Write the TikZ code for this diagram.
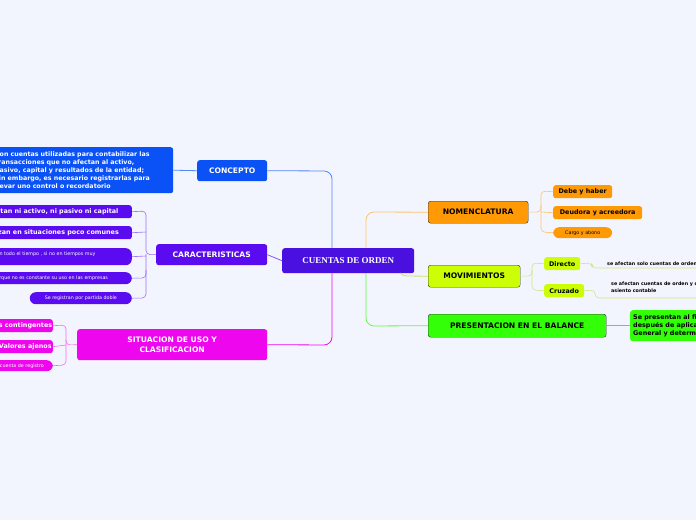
\documentclass[tikz,border=0pt]{standalone}
\usepackage{fontspec}
\setmainfont{DejaVu Sans}
\newfontfamily\serifb{Liberation Serif}
\begin{document}
\begin{tikzpicture}[x=1pt,y=-1pt,
  box/.style={draw=none,rounded corners=2.5pt,text=white,font=\bfseries\fontsize{7.6}{8.5}\selectfont,anchor=north west,inner sep=0pt,align=center},
  pill/.style={box,rounded corners=6pt,font=\fontsize{4.8}{5.5}\selectfont},
  sm/.style={font=\bfseries\fontsize{6.4}{7.5}\selectfont},
  conn/.style={line width=0.8pt,rounded corners=8pt}]
\definecolor{bg}{HTML}{F3F5FE}
\definecolor{cblue}{HTML}{0A52F5}
\definecolor{cpur}{HTML}{5A0BF0}
\definecolor{cmag}{HTML}{EE06EE}
\definecolor{corg}{HTML}{FF9A05}
\definecolor{cyel}{HTML}{CCFF05}
\definecolor{cgrn}{HTML}{33FF08}
\definecolor{ccen}{HTML}{4A10E0}
\fill[bg] (0,0) rectangle (696,520);
\useasboundingbox (0,0) rectangle (696,520);
% center
\node[box,fill=ccen,minimum width=132pt,minimum height=25pt,font=\serifb\bfseries\fontsize{9}{10}\selectfont] (c) at (282,248) {CUENTAS DE ORDEN};
% left
\node[box,fill=cblue,minimum width=70pt,minimum height=21pt] (con) at (197,160) {CONCEPTO};
\node[box,fill=cblue,minimum width=183pt,minimum height=46pt,align=left,text width=183pt,font=\bfseries\fontsize{6.3}{8}\selectfont] (cont) at (-10,147) {\hspace*{5pt}Son cuentas utilizadas para contabilizar las\\\hspace*{5pt}transacciones que no afectan al activo,\\\hspace*{5pt}pasivo, capital y resultados de la entidad;\\\hspace*{5pt}sin embargo, es necesario registrarlas para\\\hspace*{5pt}llevar uno control o recordatorio};
\node[box,fill=cpur,minimum width=111pt,minimum height=21pt] (car) at (156,244) {CARACTERISTICAS};
\node[box,sm,fill=cpur,minimum width=152pt,minimum height=13pt,anchor=north east] (k1) at (132,205) {\hspace*{-20pt}No afectan ni activo, ni pasivo ni capital};
\node[box,sm,fill=cpur,minimum width=152pt,minimum height=13pt,anchor=north east] (k2) at (132,226) {\hspace*{-20pt}Se utilizan en situaciones poco comunes};
\node[pill,fill=cpur,minimum width=152pt,minimum height=17pt,anchor=north east,align=left] (k3) at (132,248) {\hspace*{-40pt}No se usan todo el tiempo , si no en tiempos muy\\ };
\node[pill,fill=cpur,minimum width=152pt,minimum height=12pt,anchor=north east] (k4) at (132,272) {\hspace*{-10pt}Porque no es constante su uso en las empresas};
\node[pill,fill=cpur,minimum width=102pt,minimum height=12pt,anchor=north east] (k5) at (132,292) {Se registran por partida doble};
\node[box,fill=cmag,minimum width=190pt,minimum height=31pt,font=\bfseries\fontsize{7.6}{10}\selectfont] (sit) at (77,329) {SITUACION DE USO Y\\CLASIFICACION};
\node[box,sm,fill=cmag,minimum width=100pt,minimum height=13pt,anchor=north east] (s1) at (53,319) {\hspace*{20pt}Sucesos contingentes};
\node[box,sm,fill=cmag,minimum width=100pt,minimum height=13pt,anchor=north east] (s2) at (53,340) {\hspace*{45pt}Valores ajenos};
\node[pill,fill=cmag,minimum width=100pt,minimum height=11pt,anchor=north east] (s3) at (53,360) {\hspace*{30pt}De cuenta de registro};
% right
\node[box,fill=corg,draw=black!80,text=black,minimum width=100pt,minimum height=22pt] (nom) at (428,201) {NOMENCLATURA};
\node[box,sm,fill=corg,text=black,minimum width=59pt,minimum height=13pt] (n1) at (553,185) {Debe y haber};
\node[box,sm,fill=corg,text=black,minimum width=89pt,minimum height=13pt] (n2) at (553,206) {Deudora y acreedora};
\node[pill,fill=corg,text=black,minimum width=59pt,minimum height=11pt] (n3) at (553,227) {Cargo y abono};
\node[box,fill=cyel,draw=black!80,text=black,minimum width=92pt,minimum height=22pt] (mov) at (428,265) {MOVIMIENTOS};
\node[box,sm,fill=cyel,text=black,minimum width=36pt,minimum height=13pt] (m1) at (544,257) {Directo};
\node[box,sm,fill=cyel,text=black,minimum width=40pt,minimum height=13pt] (m2) at (544,284) {Cruzado};
\node[anchor=west,inner sep=0pt,font=\bfseries\fontsize{4.8}{6}\selectfont] (m1t) at (607,263.5) {se afectan solo cuentas de orden};
\node[anchor=north west,inner sep=0pt,align=left,font=\bfseries\fontsize{4.8}{6.5}\selectfont] (m2t) at (611,282) {se afectan cuentas de orden y de balance en un\\asiento contable};
\node[box,fill=cgrn,draw=black!80,text=black,minimum width=178pt,minimum height=23pt] (pre) at (428,314) {PRESENTACION EN EL BALANCE};
\node[box,fill=cgrn,text=black,minimum width=90pt,minimum height=31pt,align=left,font=\bfseries\fontsize{6.4}{8.3}\selectfont] (pt) at (630,310) {\hspace*{3pt}Se presentan al final del balance\\\hspace*{3pt}después de aplicar el Balance\\\hspace*{3pt}General y determinar su resultado};
% connectors
\draw[conn,cblue!70] (con.east) -- (332,171) -- (c.north -| 332,0);
\draw[conn,cpur!70] (car.east) -- (c.west);
\draw[conn,cmag] (sit.east) -- (332,345) -- (c.south -| 332,0);
\draw[conn,corg!60] (366,248) -- (366,212) -- (nom.west);
\draw[conn,cyel!80!black!60,rounded corners=4pt] (400,273) -- (403,276) -- (mov.west);
\draw[conn,cgrn!80] (366,273) -- (366,326) -- (pre.west);
\begin{scope}[conn,rounded corners=4pt,line width=0.6pt]
\draw[cpur!60] (car.west) -- (146,254.5) -- (146,211) -- (k1.east);
\draw[cpur!60] (146,232) -- (k2.east);
\draw[cpur!60] (146,256) -- (k3.east);
\draw[cpur!60] (146,254) -- (146,278) -- (k4.east);
\draw[cpur!60] (146,270) -- (146,298) -- (k5.east);
\draw[cmag!60] (sit.west) -- (66,345) -- (66,325) -- (s1.east);
\draw[cmag!60] (66,345) -- (s2.east);
\draw[cmag!60] (66,340) -- (66,365) -- (s3.east);
\draw[corg!60] (nom.east) -- (541,212) -- (541,191) -- (n1.west);
\draw[corg!60] (541,212) -- (n2.west);
\draw[corg!60] (541,205) -- (541,232) -- (n3.west);
\draw[cyel!80!black!50] (mov.east) -- (532,276) -- (532,263) -- (m1.west);
\draw[cyel!80!black!50] (532,270) -- (532,290) -- (m2.west);
\draw[cyel!80!black!50] (m1.east) -- (592,263) -- (592,268) -- (696,268);
\draw[cyel!80!black!50] (m2.east) -- (595,290) -- (595,298) -- (696,298);
\draw[cgrn,line width=0.8pt] (pre.east) -- (pt.west);
\draw[cblue!70,line width=0.8pt] (cont.east) -- (con.west);
\end{scope}
\end{tikzpicture}
\end{document}
